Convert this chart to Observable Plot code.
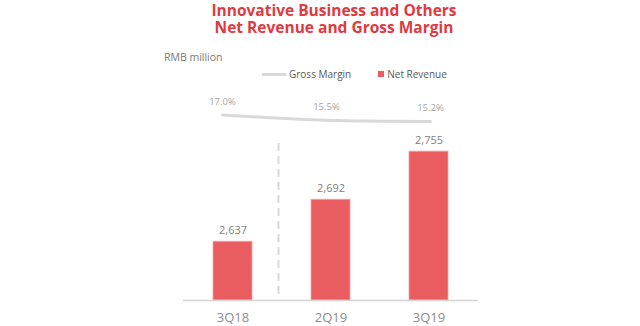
<!DOCTYPE html>
<html><head><meta charset="utf-8">
<script src="https://cdn.jsdelivr.net/npm/d3@7"></script>
<script src="https://cdn.jsdelivr.net/npm/@observablehq/plot@0.6"></script>
<style>
body{margin:0;background:#fff;font-family:"Open Sans",sans-serif;}
#wrap{position:relative;width:640px;height:326px;overflow:hidden;}
.title{position:absolute;left:0;width:668px;text-align:center;color:#e03a40;font-weight:bold;font-size:15.5px;line-height:16px;height:16px;}
#unit{position:absolute;left:164px;top:50px;color:#7a7a7a;font-size:10.5px;}
#legend{position:absolute;left:262px;top:67px;font-size:10px;color:#595959;display:flex;align-items:center;}
.sw-line{display:inline-block;width:24px;height:3px;background:#d9d9d9;margin-right:3px;}
.sw-sq{display:inline-block;width:6px;height:6px;background:#e95c5f;margin-left:27px;margin-right:3px;}
.layer{position:absolute;left:0;top:80px;}
</style></head>
<body>
<div id="wrap">
  <div class="title" style="top:2px">Innovative Business and Others</div>
  <div class="title" style="top:19px">Net Revenue and Gross Margin</div>
  <div id="unit">RMB million</div>
  <div id="legend"><span class="sw-line"></span>Gross Margin<span class="sw-sq"></span>Net Revenue</div>
  <div id="bars" class="layer"></div>
  <div id="line" class="layer"></div>
</div>
<script>
const quarters = ["3Q18", "2Q19", "3Q19"];
const netRevenue = [2637, 2692, 2755];
const grossMargin = [17.0, 15.5, 15.2];
const marginLabels = ["17.0%", "15.5%", "15.2%"];

const rows = quarters.map((q, i) => ({q, rev: netRevenue[i], gm: grossMargin[i], gmLabel: marginLabels[i]}));
const fmt = d3.format(",");

const bars = Plot.plot({
  width: 640, height: 246,
  marginLeft: 183, marginRight: 162, marginTop: 20, marginBottom: 26,
  x: {domain: quarters, paddingInner: 0.6, paddingOuter: 0.3, label: null, tickSize: 0, tickPadding: 12},
  y: {domain: [2560, 2822], axis: null},
  style: {fontFamily: "Open Sans", fontSize: "13px", color: "#8c8c8c", background: "transparent"},
  marks: [
    Plot.ruleX([quarters[0]], {x: d => d, dx: 45.5, stroke: "#d9d9d9", strokeWidth: 2, strokeDasharray: "8,5", insetTop: 43, insetBottom: 4}),
    Plot.barY(rows, {x: "q", y1: 2560, y2: "rev", fill: "#e95c5f", stroke: "#f4a3a5", strokeWidth: 0.8}),
    Plot.text(rows, {x: "q", y: "rev", text: d => fmt(d.rev), dy: -11, fill: "#7f7f7f", fontSize: 11}),
    Plot.ruleY([2560], {stroke: "#d4d4d4", strokeWidth: 1.5})
  ]
});
document.getElementById("bars").appendChild(bars);

const line = Plot.plot({
  width: 640, height: 246,
  marginLeft: 222, marginRight: 210, marginTop: 20, marginBottom: 26,
  x: {type: "point", domain: quarters, padding: 0, axis: null},
  y: {domain: [-34.4, 21], axis: null},
  style: {fontFamily: "Open Sans", background: "transparent"},
  marks: [
    Plot.line(rows, {x: "q", y: "gm", curve: "natural", stroke: "#d9d9d9", strokeWidth: 3}),
    Plot.text(rows, {x: "q", y: "gm", text: "gmLabel", dy: -13, fill: "#a6a6a6", fontSize: 9.5})
  ]
});
document.getElementById("line").appendChild(line);
</script>
</body></html>
